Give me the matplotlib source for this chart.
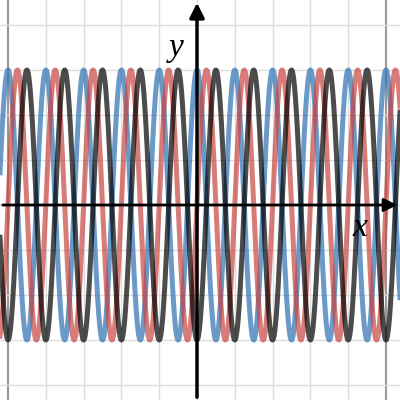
import numpy as np
import matplotlib.pyplot as plt

amplitude = 3
frequency = 1
phases = [0.0, 0.25, 0.5]
colors = ['#2d70b3', '#c74440', '#000000']

fig = plt.figure(figsize=(4, 4), dpi=100)
ax = fig.add_axes([0, 0, 1, 1])
xmin, xmax = -197/37.8, 203/37.8
ymin, ymax = -195/45, 205/45
ax.set_xlim(xmin, xmax); ax.set_ylim(ymin, ymax)
for v in np.arange(-5, 6):
    major = abs(v) == 5
    ax.axvline(v, color='#999999' if major else '#dddddd', lw=1.5 if major else 1, zorder=0)
for v in np.arange(-4, 5):
    ax.axhline(v, color='#dddddd', lw=1, zorder=0)
x = np.linspace(xmin, xmax, 4000)
for ph, c in zip(phases, colors):
    ax.plot(x, amplitude*np.cos(2*np.pi*frequency*(x - ph)), color=c, lw=3.6, alpha=0.7, zorder=2)
ax.annotate('', xy=(xmax, 0), xytext=(xmin, 0), arrowprops=dict(arrowstyle='-|>', color='black', lw=2, mutation_scale=20), zorder=3)
ax.annotate('', xy=(0, ymax), xytext=(0, ymin), arrowprops=dict(arrowstyle='-|>', color='black', lw=2.5, mutation_scale=22), zorder=3)
ax.text(-0.55, 3.5, 'y', fontsize=24, style='italic', family='Liberation Serif', ha='center', va='center')
ax.text(4.3, -0.5, 'x', fontsize=24, style='italic', family='Liberation Serif', ha='center', va='center')
ax.axis('off')
fig.savefig('out.png')
